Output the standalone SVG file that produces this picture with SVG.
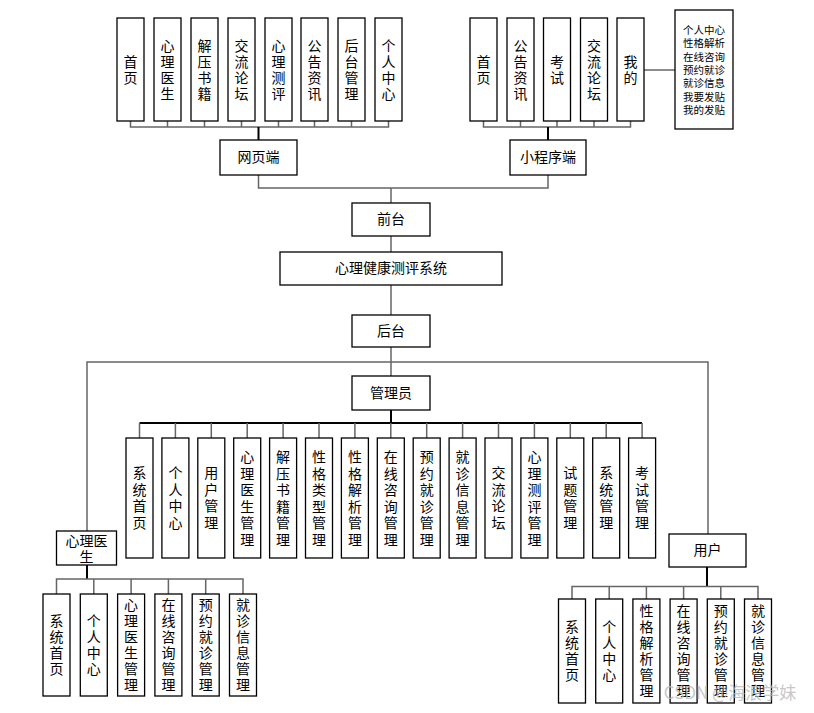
<svg xmlns="http://www.w3.org/2000/svg" width="814" height="713" viewBox="0 0 814 713">
<style>
rect{fill:#fff;stroke:#000;stroke-width:1.3}
text{font-family:"Noto Sans CJK SC","Noto Sans",sans-serif;font-size:14px;fill:#000;text-anchor:middle}
.c path{fill:none;stroke:#666;stroke-width:1.5}
.c .k{stroke:#000;stroke-width:2}
.s{font-size:10.5px}
</style>
<rect x="0" y="0" width="814" height="713" style="stroke:none"/>
<g class="c" id="connectors">
<path d="M130.5 121V127H388.5V121M167.5 121V127M204.5 121V127M241.5 121V127M278.5 121V127M314.5 121V127M351.5 121V127"/>
<path class="k" d="M258.5 127V140"/>
<path d="M483.5 121V127H630.5V121M520.5 121V127M557 121V127M594 121V127"/>
<path class="k" d="M548 127V140"/>
<path d="M258.5 175V188H548V175M391 188V203"/>
<path d="M644 70H675"/>
<path d="M391 236V252M391 285V315"/>
<path d="M391 347V376M87 531V362H708V534"/>
<path class="k" d="M391 410V423M139.5 423H642"/>
<path d="M139.5 423V438M175.4 423V438M211.3 423V438M247.2 423V438M283.1 423V438M319 423V438M354.9 423V438M390.8 423V438M426.7 423V438M462.6 423V438M498.5 423V438M534.4 423V438M570.3 423V438M606.2 423V438M642.1 423V438"/>
<path class="k" d="M87 565V579"/>
<path d="M56.5 594V579H243V594M93.8 579V594M131.1 579V594M168.4 579V594M205.7 579V594"/>
<path class="k" d="M707 567V586.5"/>
<path d="M572 599V586.5H758V599M609.2 586.5V599M646.4 586.5V599M683.6 586.5V599M720.8 586.5V599"/>
</g>
<g id="web-items">
<rect x="117" y="18" width="27" height="103"/><text><tspan x="130.5" y="67">首</tspan><tspan x="130.5" dy="16">页</tspan></text>
<rect x="154" y="18" width="27" height="103"/><text><tspan x="167.5" y="51">心</tspan><tspan x="167.5" dy="16">理</tspan><tspan x="167.5" dy="16">医</tspan><tspan x="167.5" dy="16">生</tspan></text>
<rect x="191" y="18" width="27" height="103"/><text><tspan x="204.5" y="51">解</tspan><tspan x="204.5" dy="16">压</tspan><tspan x="204.5" dy="16">书</tspan><tspan x="204.5" dy="16">籍</tspan></text>
<rect x="228" y="18" width="27" height="103"/><text><tspan x="241.5" y="51">交</tspan><tspan x="241.5" dy="16">流</tspan><tspan x="241.5" dy="16">论</tspan><tspan x="241.5" dy="16">坛</tspan></text>
<rect x="265" y="18" width="27" height="103"/><text><tspan x="278.5" y="51">心</tspan><tspan x="278.5" dy="16">理</tspan><tspan x="278.5" dy="16">测</tspan><tspan x="278.5" dy="16">评</tspan></text>
<rect x="301" y="18" width="27" height="103"/><text><tspan x="314.5" y="51">公</tspan><tspan x="314.5" dy="16">告</tspan><tspan x="314.5" dy="16">资</tspan><tspan x="314.5" dy="16">讯</tspan></text>
<rect x="338" y="18" width="27" height="103"/><text><tspan x="351.5" y="51">后</tspan><tspan x="351.5" dy="16">台</tspan><tspan x="351.5" dy="16">管</tspan><tspan x="351.5" dy="16">理</tspan></text>
<rect x="375" y="18" width="27" height="103"/><text><tspan x="388.5" y="51">个</tspan><tspan x="388.5" dy="16">人</tspan><tspan x="388.5" dy="16">中</tspan><tspan x="388.5" dy="16">心</tspan></text>
</g>
<g id="mini-items">
<rect x="470" y="18" width="27" height="103"/><text><tspan x="483.5" y="67">首</tspan><tspan x="483.5" dy="16">页</tspan></text>
<rect x="507" y="18" width="27" height="103"/><text><tspan x="520.5" y="51">公</tspan><tspan x="520.5" dy="16">告</tspan><tspan x="520.5" dy="16">资</tspan><tspan x="520.5" dy="16">讯</tspan></text>
<rect x="543.5" y="18" width="27" height="103"/><text><tspan x="557" y="67">考</tspan><tspan x="557" dy="16">试</tspan></text>
<rect x="580.5" y="18" width="27" height="103"/><text><tspan x="594" y="51">交</tspan><tspan x="594" dy="16">流</tspan><tspan x="594" dy="16">论</tspan><tspan x="594" dy="16">坛</tspan></text>
<rect x="617" y="18" width="27" height="103"/><text><tspan x="630.5" y="67">我</tspan><tspan x="630.5" dy="16">的</tspan></text>
</g>
<g id="mine-detail">
<rect x="675" y="10" width="58" height="119"/>
<text class="s"><tspan x="704" y="34">个人中心</tspan><tspan x="704" dy="13.3">性格解析</tspan><tspan x="704" dy="13.3">在线咨询</tspan><tspan x="704" dy="13.3">预约就诊</tspan><tspan x="704" dy="13.3">就诊信息</tspan><tspan x="704" dy="13.3">我要发贴</tspan><tspan x="704" dy="13.3">我的发贴</tspan></text>
</g>
<g id="web"><rect x="220" y="140" width="77" height="35"/><text x="258.5" y="162">网页端</text></g>
<g id="mini"><rect x="510" y="140" width="76" height="35"/><text x="548" y="162">小程序端</text></g>
<g id="front"><rect x="352" y="203" width="78" height="33"/><text x="391" y="224">前台</text></g>
<g id="system"><rect x="280" y="252" width="222" height="33"/><text x="391" y="273">心理健康测评系统</text></g>
<g id="back"><rect x="352" y="315" width="78" height="32"/><text x="391" y="336">后台</text></g>
<g id="admin"><rect x="352" y="376" width="78" height="34"/><text x="391" y="398">管理员</text></g>
<g id="admin-items">
<rect x="126" y="438" width="27" height="120"/><text><tspan x="139.5" y="478">系</tspan><tspan x="139.5" dy="16.5">统</tspan><tspan x="139.5" dy="16.5">首</tspan><tspan x="139.5" dy="16.5">页</tspan></text>
<rect x="161.9" y="438" width="27" height="120"/><text><tspan x="175.4" y="478">个</tspan><tspan x="175.4" dy="16.5">人</tspan><tspan x="175.4" dy="16.5">中</tspan><tspan x="175.4" dy="16.5">心</tspan></text>
<rect x="197.8" y="438" width="27" height="120"/><text><tspan x="211.3" y="478">用</tspan><tspan x="211.3" dy="16.5">户</tspan><tspan x="211.3" dy="16.5">管</tspan><tspan x="211.3" dy="16.5">理</tspan></text>
<rect x="233.7" y="438" width="27" height="120"/><text><tspan x="247.2" y="462">心</tspan><tspan x="247.2" dy="16.5">理</tspan><tspan x="247.2" dy="16.5">医</tspan><tspan x="247.2" dy="16.5">生</tspan><tspan x="247.2" dy="16.5">管</tspan><tspan x="247.2" dy="16.5">理</tspan></text>
<rect x="269.6" y="438" width="27" height="120"/><text><tspan x="283.1" y="462">解</tspan><tspan x="283.1" dy="16.5">压</tspan><tspan x="283.1" dy="16.5">书</tspan><tspan x="283.1" dy="16.5">籍</tspan><tspan x="283.1" dy="16.5">管</tspan><tspan x="283.1" dy="16.5">理</tspan></text>
<rect x="305.5" y="438" width="27" height="120"/><text><tspan x="319" y="462">性</tspan><tspan x="319" dy="16.5">格</tspan><tspan x="319" dy="16.5">类</tspan><tspan x="319" dy="16.5">型</tspan><tspan x="319" dy="16.5">管</tspan><tspan x="319" dy="16.5">理</tspan></text>
<rect x="341.4" y="438" width="27" height="120"/><text><tspan x="354.9" y="462">性</tspan><tspan x="354.9" dy="16.5">格</tspan><tspan x="354.9" dy="16.5">解</tspan><tspan x="354.9" dy="16.5">析</tspan><tspan x="354.9" dy="16.5">管</tspan><tspan x="354.9" dy="16.5">理</tspan></text>
<rect x="377.3" y="438" width="27" height="120"/><text><tspan x="390.8" y="462">在</tspan><tspan x="390.8" dy="16.5">线</tspan><tspan x="390.8" dy="16.5">咨</tspan><tspan x="390.8" dy="16.5">询</tspan><tspan x="390.8" dy="16.5">管</tspan><tspan x="390.8" dy="16.5">理</tspan></text>
<rect x="413.2" y="438" width="27" height="120"/><text><tspan x="426.7" y="462">预</tspan><tspan x="426.7" dy="16.5">约</tspan><tspan x="426.7" dy="16.5">就</tspan><tspan x="426.7" dy="16.5">诊</tspan><tspan x="426.7" dy="16.5">管</tspan><tspan x="426.7" dy="16.5">理</tspan></text>
<rect x="449.1" y="438" width="27" height="120"/><text><tspan x="462.6" y="462">就</tspan><tspan x="462.6" dy="16.5">诊</tspan><tspan x="462.6" dy="16.5">信</tspan><tspan x="462.6" dy="16.5">息</tspan><tspan x="462.6" dy="16.5">管</tspan><tspan x="462.6" dy="16.5">理</tspan></text>
<rect x="485" y="438" width="27" height="120"/><text><tspan x="498.5" y="478">交</tspan><tspan x="498.5" dy="16.5">流</tspan><tspan x="498.5" dy="16.5">论</tspan><tspan x="498.5" dy="16.5">坛</tspan></text>
<rect x="520.9" y="438" width="27" height="120"/><text><tspan x="534.4" y="462">心</tspan><tspan x="534.4" dy="16.5">理</tspan><tspan x="534.4" dy="16.5">测</tspan><tspan x="534.4" dy="16.5">评</tspan><tspan x="534.4" dy="16.5">管</tspan><tspan x="534.4" dy="16.5">理</tspan></text>
<rect x="556.8" y="438" width="27" height="120"/><text><tspan x="570.3" y="478">试</tspan><tspan x="570.3" dy="16.5">题</tspan><tspan x="570.3" dy="16.5">管</tspan><tspan x="570.3" dy="16.5">理</tspan></text>
<rect x="592.7" y="438" width="27" height="120"/><text><tspan x="606.2" y="478">系</tspan><tspan x="606.2" dy="16.5">统</tspan><tspan x="606.2" dy="16.5">管</tspan><tspan x="606.2" dy="16.5">理</tspan></text>
<rect x="628.6" y="438" width="27" height="120"/><text><tspan x="642.1" y="478">考</tspan><tspan x="642.1" dy="16.5">试</tspan><tspan x="642.1" dy="16.5">管</tspan><tspan x="642.1" dy="16.5">理</tspan></text>
</g>
<g id="doctor"><rect x="56.5" y="531" width="60" height="34"/><text><tspan x="86.5" y="546">心理医</tspan><tspan x="86.5" dy="16">生</tspan></text></g>
<g id="doctor-items">
<rect x="43" y="594" width="27" height="102"/><text><tspan x="56.5" y="626">系</tspan><tspan x="56.5" dy="16">统</tspan><tspan x="56.5" dy="16">首</tspan><tspan x="56.5" dy="16">页</tspan></text>
<rect x="80.3" y="594" width="27" height="102"/><text><tspan x="93.8" y="626">个</tspan><tspan x="93.8" dy="16">人</tspan><tspan x="93.8" dy="16">中</tspan><tspan x="93.8" dy="16">心</tspan></text>
<rect x="117.6" y="594" width="27" height="102"/><text><tspan x="131.1" y="610">心</tspan><tspan x="131.1" dy="16">理</tspan><tspan x="131.1" dy="16">医</tspan><tspan x="131.1" dy="16">生</tspan><tspan x="131.1" dy="16">管</tspan><tspan x="131.1" dy="16">理</tspan></text>
<rect x="154.9" y="594" width="27" height="102"/><text><tspan x="168.4" y="610">在</tspan><tspan x="168.4" dy="16">线</tspan><tspan x="168.4" dy="16">咨</tspan><tspan x="168.4" dy="16">询</tspan><tspan x="168.4" dy="16">管</tspan><tspan x="168.4" dy="16">理</tspan></text>
<rect x="192.2" y="594" width="27" height="102"/><text><tspan x="205.7" y="610">预</tspan><tspan x="205.7" dy="16">约</tspan><tspan x="205.7" dy="16">就</tspan><tspan x="205.7" dy="16">诊</tspan><tspan x="205.7" dy="16">管</tspan><tspan x="205.7" dy="16">理</tspan></text>
<rect x="229.5" y="594" width="27" height="102"/><text><tspan x="243" y="610">就</tspan><tspan x="243" dy="16">诊</tspan><tspan x="243" dy="16">信</tspan><tspan x="243" dy="16">息</tspan><tspan x="243" dy="16">管</tspan><tspan x="243" dy="16">理</tspan></text>
</g>
<g id="user"><rect x="669" y="534" width="77" height="33"/><text x="707.5" y="555">用户</text></g>
<g id="user-items">
<rect x="558.5" y="599" width="27" height="104"/><text><tspan x="572" y="632">系</tspan><tspan x="572" dy="16">统</tspan><tspan x="572" dy="16">首</tspan><tspan x="572" dy="16">页</tspan></text>
<rect x="595.7" y="599" width="27" height="104"/><text><tspan x="609.2" y="632">个</tspan><tspan x="609.2" dy="16">人</tspan><tspan x="609.2" dy="16">中</tspan><tspan x="609.2" dy="16">心</tspan></text>
<rect x="632.9" y="599" width="27" height="104"/><text><tspan x="646.4" y="616">性</tspan><tspan x="646.4" dy="16">格</tspan><tspan x="646.4" dy="16">解</tspan><tspan x="646.4" dy="16">析</tspan><tspan x="646.4" dy="16">管</tspan><tspan x="646.4" dy="16">理</tspan></text>
<rect x="670.1" y="599" width="27" height="104"/><text><tspan x="683.6" y="616">在</tspan><tspan x="683.6" dy="16">线</tspan><tspan x="683.6" dy="16">咨</tspan><tspan x="683.6" dy="16">询</tspan><tspan x="683.6" dy="16">管</tspan><tspan x="683.6" dy="16">理</tspan></text>
<rect x="707.3" y="599" width="27" height="104"/><text><tspan x="720.8" y="616">预</tspan><tspan x="720.8" dy="16">约</tspan><tspan x="720.8" dy="16">就</tspan><tspan x="720.8" dy="16">诊</tspan><tspan x="720.8" dy="16">管</tspan><tspan x="720.8" dy="16">理</tspan></text>
<rect x="744.5" y="599" width="27" height="104"/><text><tspan x="758" y="616">就</tspan><tspan x="758" dy="16">诊</tspan><tspan x="758" dy="16">信</tspan><tspan x="758" dy="16">息</tspan><tspan x="758" dy="16">管</tspan><tspan x="758" dy="16">理</tspan></text>
</g>
<text x="730" y="699" style="font-size:17px;fill:#bbb;opacity:0.8">CSDN @海浪学妹</text>
</svg>
